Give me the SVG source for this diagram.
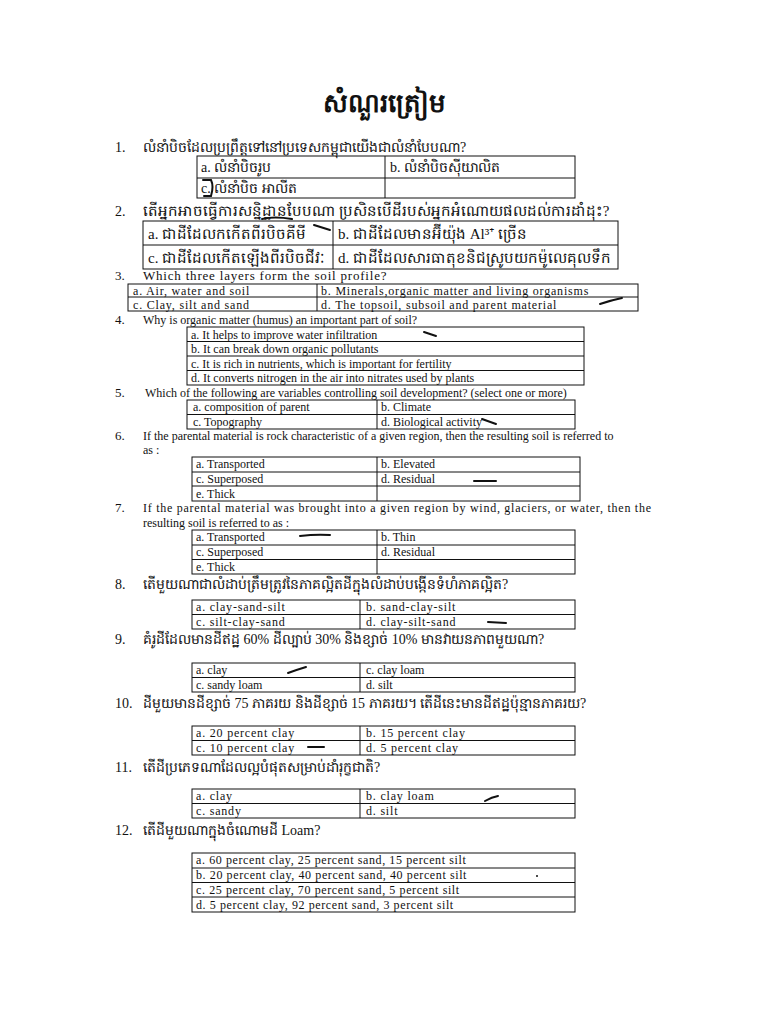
<svg xmlns="http://www.w3.org/2000/svg" width="768" height="1024" viewBox="0 0 768 1024">
<style>
text{font-family:"Liberation Serif","Noto Sans",serif;font-size:12px;fill:#111}
.q{font-size:13px}
.k{font-size:14px}
.k2{font-size:15px}
.t{font-size:26px;font-weight:bold}
.b{fill:none;stroke:#111;stroke-width:1}
.m{fill:none;stroke:#111;stroke-width:2;stroke-linecap:round}
</style>
<rect width="768" height="1024" fill="#fff"/>
<text class="t" x="384" y="112" text-anchor="middle">សំណួរត្រៀម</text>

<g id="q1">
<text class="k" x="115" y="152">1.</text><text class="k" x="143" y="152">លំនាំបិចដែលប្រព្រឹត្តទៅនៅប្រទេសកម្ពុជាយើងជាលំនាំបែបណា?</text>
<rect class="b" x="197" y="156" width="378" height="42"/><path class="b" d="M197 178H575M385 156V198"/>
<text class="k" x="201" y="172">a. លំនាំបិចរូប</text><text class="k" x="390" y="172">b. លំនាំបិចស៊ីយាលិត</text>
<text class="k" x="201" y="193">c. លំនាំបិច អាលីត</text>
</g>
<g id="q2">
<text class="k" x="115" y="216">2.</text><text class="k2" x="143" y="216">តើអ្នកអាចធ្វើការសន្និដ្ឋានបែបណា ប្រសិនបើដីរបស់អ្នកអំណោយផលដល់ការដាំដុះ?</text>
<rect class="b" x="143" y="221" width="475" height="48"/><path class="b" d="M143 245H618M333 221V269"/>
<text class="k2" x="148" y="239">a. ជាដីដែលកកើតពីរបិចគីមី</text><text class="k2" x="338" y="239">b. ជាដីដែលមានអ៊ីយ៉ុង Al³⁺ ច្រើន</text>
<text class="k2" x="148" y="263">c. ជាដីដែលកើតឡើងពីរបិចជីវៈ</text><text class="k2" x="338" y="263">d. ជាដីដែលសារធាតុខនិជស្រូបយកម៉ូលេគុលទឹក</text>
</g>
<g id="q3">
<text class="q" x="115" y="280">3.</text><text class="q" x="143" y="280" letter-spacing="0.8">Which three layers form the soil profile?</text>
<rect class="b" x="128" y="284" width="510" height="27"/><path class="b" d="M128 297H638M317 284V311"/>
<text x="133" y="295" letter-spacing="0.8">a. Air, water and soil</text><text x="321" y="295" letter-spacing="0.8">b. Minerals,organic matter and living organisms</text>
<text x="133" y="309" letter-spacing="0.8">c. Clay, silt and sand</text><text x="321" y="309" letter-spacing="0.8">d. The topsoil, subsoil and parent material</text>
</g>
<g id="q4">
<text class="q" x="115" y="324">4.</text><text x="143" y="324">Why is organic matter (humus) an important part of soil?</text>
<rect class="b" x="187" y="327" width="397" height="58"/><path class="b" d="M187 341.5H584M187 356H584M187 370.5H584"/>
<text x="191" y="339">a. It helps to improve water infiltration</text>
<text x="191" y="353">b. It can break down organic pollutants</text>
<text x="191" y="368">c. It is rich in nutrients, which is important for fertility</text>
<text x="191" y="382">d. It converts nitrogen in the air into nitrates used by plants</text>
</g>
<g id="q5">
<text class="q" x="115" y="397">5.</text><text x="145" y="397">Which of the following are variables controlling soil development? (select one or more)</text>
<rect class="b" x="187" y="400" width="388" height="29"/><path class="b" d="M187 414.5H575M377 400V429"/>
<text x="193" y="411">a. composition of parent</text><text x="381" y="411">b. Climate</text>
<text x="193" y="426">c. Topography</text><text x="381" y="426">d. Biological activity</text>
</g>
<g id="q6">
<text class="q" x="115" y="440">6.</text><text x="143" y="440">If the parental material is rock characteristic of a given region, then the resulting soil is referred to</text>
<text x="143" y="454">as :</text>
<rect class="b" x="192" y="457" width="388" height="44"/><path class="b" d="M192 472H580M192 486H580M377 457V501"/>
<text x="196" y="468">a. Transported</text><text x="381" y="468">b. Elevated</text>
<text x="196" y="483">c. Superposed</text><text x="381" y="483">d. Residual</text>
<text x="196" y="498">e. Thick</text>
</g>
<g id="q7">
<text class="q" x="115" y="512">7.</text><text x="143" y="512" textLength="508">If the parental material was brought into a given region by wind, glaciers, or water, then the</text>
<text x="143" y="527">resulting soil is referred to as :</text>
<rect class="b" x="192" y="530" width="383" height="44"/><path class="b" d="M192 545H575M192 559.5H575M377 530V574"/>
<text x="196" y="541">a. Transported</text><text x="381" y="541">b.  Thin</text>
<text x="196" y="556">c. Superposed</text><text x="381" y="556">d. Residual</text>
<text x="196" y="571">e. Thick</text>
</g>
<g id="q8">
<text class="k" x="115" y="589">8.</text><text class="k" x="143" y="589">តើមួយណាជាលំដាប់ត្រឹមត្រូវនៃភាគល្អិតដីក្នុងលំដាប់បង្កើនទំហំភាគល្អិត?</text>
<rect class="b" x="192" y="600" width="383" height="29"/><path class="b" d="M192 614.5H575M360 600V629"/>
<text x="196" y="611" letter-spacing="0.8">a. clay-sand-silt</text><text x="366" y="611" letter-spacing="0.8">b. sand-clay-silt</text>
<text x="196" y="626" letter-spacing="0.8">c. silt-clay-sand</text><text x="366" y="626" letter-spacing="0.8">d. clay-silt-sand</text>
</g>
<g id="q9">
<text class="k" x="115" y="644">9.</text><text class="k" x="143" y="644">គំរូដីដែលមានដីឥដ្ឋ 60% ដីល្បាប់ 30% និងខ្សាច់ 10% មានវាយនភាពមួយណា?</text>
<rect class="b" x="192" y="663" width="383" height="29"/><path class="b" d="M192 677.5H575M360 663V692"/>
<text x="196" y="674">a. clay</text><text x="366" y="674">c.  clay loam</text>
<text x="196" y="689">c. sandy loam</text><text x="366" y="689">d. silt</text>
</g>
<g id="q10">
<text class="k" x="115" y="708">10.</text><text class="k" x="143" y="708">ដីមួយមានដីខ្សាច់ 75 ភាគរយ និងដីខ្សាច់ 15 ភាគរយ។ តើដីនេះមានដីឥដ្ឋប៉ុន្មានភាគរយ?</text>
<rect class="b" x="192" y="726" width="383" height="29"/><path class="b" d="M192 740.5H575M360 726V755"/>
<text x="196" y="737" letter-spacing="0.8">a. 20 percent clay</text><text x="366" y="737" letter-spacing="0.8">b. 15 percent clay</text>
<text x="196" y="752" letter-spacing="0.8">c. 10 percent clay</text><text x="366" y="752" letter-spacing="0.8">d. 5 percent clay</text>
</g>
<g id="q11">
<text class="k" x="115" y="772">11.</text><text class="k" x="143" y="772">តើដីប្រភេទណាដែលល្អបំផុតសម្រាប់ដាំរុក្ខជាតិ?</text>
<rect class="b" x="192" y="789" width="383" height="29"/><path class="b" d="M192 803.5H575M360 789V818"/>
<text x="196" y="800" letter-spacing="0.8">a. clay</text><text x="366" y="800" letter-spacing="0.8">b. clay loam</text>
<text x="196" y="815" letter-spacing="0.8">c. sandy</text><text x="366" y="815" letter-spacing="0.8">d. silt</text>
</g>
<g id="q12">
<text class="k" x="115" y="835">12.</text><text class="k" x="143" y="835">តើដីមួយណាក្នុងចំណោមដី Loam?</text>
<rect class="b" x="192" y="853" width="383" height="59"/><path class="b" d="M192 868H575M192 882.5H575M192 897H575"/>
<text x="196" y="864" letter-spacing="0.6">a. 60 percent clay, 25 percent sand, 15 percent silt</text>
<text x="196" y="879" letter-spacing="0.6">b. 20 percent clay, 40 percent sand, 40 percent silt</text>
<text x="196" y="894" letter-spacing="0.6">c. 25 percent clay, 70 percent sand, 5 percent silt</text>
<text x="196" y="909" letter-spacing="0.6">d. 5 percent clay, 92 percent sand, 3 percent silt</text>
</g>
<g id="marks">
<path class="m" d="M203 180H211Q214 186 211 196H204"/>
<path class="m" d="M262 219Q274 216 292 219"/>
<path class="m" d="M314 225L330 230"/>
<path class="m" d="M600 304Q612 300 622 298"/>
<path class="m" d="M424 332L436 336"/>
<path class="m" d="M482 419L496 424"/>
<path class="m" d="M474 481H496"/>
<path class="m" d="M300 536Q316 534 330 535"/>
<path class="m" d="M488 622L506 623"/>
<path class="m" d="M288 673Q296 670 306 667"/>
<path class="m" d="M308 747H324"/>
<path class="m" d="M485 801Q492 797 498 796"/>
<circle cx="537" cy="876" r="1" fill="#111"/>
</g>
</svg>
